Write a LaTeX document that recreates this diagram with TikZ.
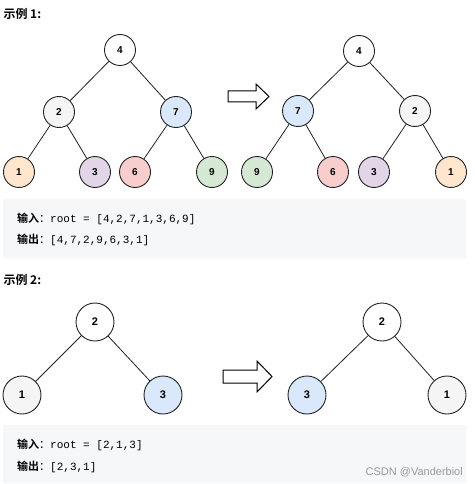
\documentclass[tikz,border=0pt]{standalone}
\usepackage{fontspec}
\setmainfont{Liberation Sans}
\setmonofont{Liberation Mono}
\newfontfamily\cjk{Noto Sans CJK SC}
\newfontfamily\cjkb{Noto Sans CJK SC Bold}
\definecolor{cgray}{HTML}{F5F5F5}
\definecolor{cblue}{HTML}{DAE8FC}
\definecolor{corange}{HTML}{FFE6CC}
\definecolor{cpurple}{HTML}{E1D5E7}
\definecolor{cred}{HTML}{F8CECC}
\definecolor{cgreen}{HTML}{D5E8D4}
\definecolor{boxbg}{HTML}{F6F7F8}
\definecolor{edgec}{HTML}{222222}
\begin{document}
\begin{tikzpicture}[x=1pt,y=-1pt,
  tn/.style={circle,draw=edgec,line width=0.9pt,minimum size=31pt,inner sep=0pt,font=\bfseries\fontsize{10}{12}\selectfont},
  tnb/.style={tn,minimum size=38pt,font=\bfseries\fontsize{11}{13}\selectfont},
  edge/.style={draw=edgec,line width=0.8pt},
  bigarrow/.style={draw=black,line width=1pt,fill=white,line join=miter},
  title/.style={anchor=west,font=\cjkb\fontsize{12}{14}\selectfont},
  codebox/.style={fill=boxbg,draw=none,rounded corners=2pt},
  codeline/.style={anchor=west,inner sep=0pt,font=\fontsize{11}{13}\selectfont}]
\useasboundingbox[fill=white] (0,0) rectangle (474,484);

% ---------- Example 1 ----------
\node[title] (t1) at (0,14) {示例 1:};
\node[tn,fill=white] (a4) at (120,50) {4};
\node[tn,fill=cgray] (a2) at (59,112) {2};
\node[tn,fill=cblue] (a7) at (176,112) {7};
\node[tn,fill=corange] (a1) at (19,172) {1};
\node[tn,fill=cpurple] (a3) at (95,172) {3};
\node[tn,fill=cred] (a6) at (135,172) {6};
\node[tn,fill=cgreen] (a9) at (212,172) {9};
\draw[edge] (a4)--(a2) (a4)--(a7) (a2)--(a1) (a2)--(a3) (a7)--(a6) (a7)--(a9);

\node[tn,fill=white] (b4) at (359,51) {4};
\node[tn,fill=cblue] (b7) at (298,111) {7};
\node[tn,fill=cgray] (b2) at (415,111) {2};
\node[tn,fill=cgreen] (b9) at (257,172) {9};
\node[tn,fill=cred] (b6) at (333,172) {6};
\node[tn,fill=cpurple] (b3) at (374,172) {3};
\node[tn,fill=corange] (b1) at (451,172) {1};
\draw[edge] (b4)--(b7) (b4)--(b2) (b7)--(b9) (b7)--(b6) (b2)--(b3) (b2)--(b1);

\draw[bigarrow] (228,91)--(256,91)--(256,84)--(269,96.5)--(256,109)--(256,102)--(228,102)--cycle;

\path[codebox] (3,199) rectangle (466,258);
\node[codeline] (in1) at (17,219) {{\cjkb 输入}{\cjk ：}\ttfamily root = [4,2,7,1,3,6,9]};
\node[codeline] (out1) at (17,240) {{\cjkb 输出}{\cjk ：}\ttfamily [4,7,2,9,6,3,1]};

% ---------- Example 2 ----------
\node[title] (t2) at (0,280) {示例 2:};
\node[tnb,fill=white] (c2) at (95,322) {2};
\node[tnb,fill=cgray] (c1) at (22,395) {1};
\node[tnb,fill=cblue] (c3) at (163,395) {3};
\draw[edge] (c2)--(c1) (c2)--(c3);

\node[tnb,fill=white] (d2) at (382,322) {2};
\node[tnb,fill=cblue] (d3) at (307,395) {3};
\node[tnb,fill=cgray] (d1) at (447,395) {1};
\draw[edge] (d2)--(d3) (d2)--(d1);

\draw[bigarrow] (223,370)--(257,370)--(257,361)--(272,376.5)--(257,392)--(257,383)--(223,383)--cycle;

\path[codebox] (3,425) rectangle (466,483);
\node[codeline] (in2) at (17,445) {{\cjkb 输入}{\cjk ：}\ttfamily root = [2,1,3]};
\node[codeline] (out2) at (17,467) {{\cjkb 输出}{\cjk ：}\ttfamily [2,3,1]};
\node[anchor=east,inner sep=0pt,text=black!40,font=\fontsize{11}{13}\selectfont] (wm) at (463,472) {CSDN @Vanderbiol};
\end{tikzpicture}
\end{document}
